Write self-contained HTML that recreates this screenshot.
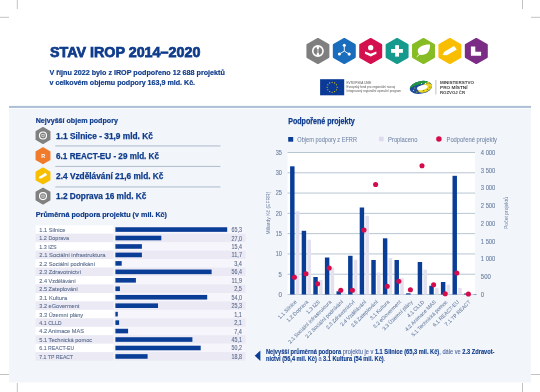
<!DOCTYPE html><html><head><meta charset="utf-8"><style>html,body{margin:0;padding:0;background:#fff;}svg{display:block;will-change:transform;}text{font-family:"Liberation Sans",sans-serif;}</style></head><body>
<svg width="540" height="392" viewBox="0 0 540 392">
<rect width="540" height="392" fill="#fff"/>
<line x1="17.3" y1="0" x2="17.3" y2="9" stroke="#b4b4b4" stroke-width="0.8"/>
<line x1="0" y1="17.3" x2="9" y2="17.3" stroke="#b4b4b4" stroke-width="0.8"/>
<line x1="522.5" y1="0" x2="522.5" y2="9" stroke="#b4b4b4" stroke-width="0.8"/>
<line x1="531" y1="17.3" x2="540" y2="17.3" stroke="#b4b4b4" stroke-width="0.8"/>
<line x1="0" y1="374.5" x2="9" y2="374.5" stroke="#b4b4b4" stroke-width="0.8"/>
<line x1="17.3" y1="383" x2="17.3" y2="392" stroke="#b4b4b4" stroke-width="0.8"/>
<line x1="531" y1="374.5" x2="540" y2="374.5" stroke="#b4b4b4" stroke-width="0.8"/>
<line x1="522.5" y1="383" x2="522.5" y2="392" stroke="#b4b4b4" stroke-width="0.8"/>
<rect x="9" y="108.6" width="522" height="273.9" fill="#f2f5fa"/>
<rect x="9" y="105.9" width="522" height="2.0" fill="#adbed4"/>
<text x="49.9" y="56.7" font-size="14.4" fill="#0f3c8c" font-weight="bold" textLength="150.5" lengthAdjust="spacingAndGlyphs" text-anchor="start"  stroke="#0f3c8c" stroke-width="0.75">STAV IROP 2014–2020</text>
<text x="49.5" y="75.2" font-size="7.4" fill="#0f3c8c" font-weight="bold" textLength="175.3" lengthAdjust="spacingAndGlyphs" text-anchor="start"  stroke="#0f3c8c" stroke-width="0.2">V říjnu 2022 bylo z IROP podpořeno 12 688 projektů</text>
<text x="49.5" y="84.9" font-size="7.4" fill="#0f3c8c" font-weight="bold" textLength="145.6" lengthAdjust="spacingAndGlyphs" text-anchor="start"  stroke="#0f3c8c" stroke-width="0.2">v celkovém objemu podpory 163,9 mld. Kč.</text>
<path d="M317.90,38.90 L328.38,44.95 L328.38,57.05 L317.90,63.10 L307.42,57.05 L307.42,44.95 Z" fill="#7f7f7f" stroke="#7f7f7f" stroke-width="2.0" stroke-linejoin="round"/>
<path d="M344.30,38.90 L354.78,44.95 L354.78,57.05 L344.30,63.10 L333.82,57.05 L333.82,44.95 Z" fill="#1a6cbd" stroke="#1a6cbd" stroke-width="2.0" stroke-linejoin="round"/>
<path d="M370.70,38.90 L381.18,44.95 L381.18,57.05 L370.70,63.10 L360.22,57.05 L360.22,44.95 Z" fill="#d5104e" stroke="#d5104e" stroke-width="2.0" stroke-linejoin="round"/>
<path d="M397.10,38.90 L407.58,44.95 L407.58,57.05 L397.10,63.10 L386.62,57.05 L386.62,44.95 Z" fill="#169a8d" stroke="#169a8d" stroke-width="2.0" stroke-linejoin="round"/>
<path d="M423.50,38.90 L433.98,44.95 L433.98,57.05 L423.50,63.10 L413.02,57.05 L413.02,44.95 Z" fill="#86bc24" stroke="#86bc24" stroke-width="2.0" stroke-linejoin="round"/>
<path d="M449.90,38.90 L460.38,44.95 L460.38,57.05 L449.90,63.10 L439.42,57.05 L439.42,44.95 Z" fill="#f9be00" stroke="#f9be00" stroke-width="2.0" stroke-linejoin="round"/>
<path d="M476.30,38.90 L486.78,44.95 L486.78,57.05 L476.30,63.10 L465.82,57.05 L465.82,44.95 Z" fill="#7b2c85" stroke="#7b2c85" stroke-width="2.0" stroke-linejoin="round"/>
<circle cx="317.9" cy="51" r="5.15" fill="none" stroke="#fff" stroke-width="1.6"/>
<polygon points="315.70,46.20 320.10,46.20 318.90,48.00 318.90,54.00 320.10,55.80 315.70,55.80 316.90,54.00 316.90,48.00" fill="#fff"/>
<rect x="316.29999999999995" y="49.4" width="3.2" height="3.2" fill="#7f7f7f"/>
<rect x="317.29999999999995" y="50.4" width="1.2" height="1.2" fill="#fff"/>
<path d="M344.3,51.1 L344.3,45.2 M344.3,51.1 L339.40000000000003,54.0 M344.3,51.1 L349.2,54.1" stroke="#fff" stroke-width="0.9"/>
<circle cx="344.3" cy="45.2" r="1.55" fill="#fff"/>
<circle cx="339.40000000000003" cy="54.0" r="1.55" fill="#fff"/>
<circle cx="349.2" cy="54.1" r="1.55" fill="#fff"/>
<circle cx="370.7" cy="47.65" r="2.65" fill="#fff"/>
<polygon points="365.10,51.40 370.70,53.70 376.30,51.40 376.50,53.70 370.70,56.60 364.90,53.70" fill="#fff"/>
<rect x="391.1" y="49" width="11.8" height="3.8" fill="#fff"/>
<rect x="395.20000000000005" y="45.2" width="3.8" height="11.4" fill="#fff"/>
<path d="M430.0,44.6 C424.5,44.2 417.7,46.8 417.7,51 C417.7,53.8 420.0,55.2 422.0,55 C428.0,54.8 430.3,50 430.0,44.6 Z" fill="#fff"/>
<path d="M420.9,53.2 L416.7,56.8" stroke="#fff" stroke-width="0.9"/>
<polygon points="442.50,54.95 444.40,51.80 454.00,45.90 456.80,49.40 446.90,55.35" fill="#fff"/>
<path d="M470.90000000000003,46.4 L475.3,46.4 L475.3,51.7 L481.1,51.7 L481.1,55.8 L470.90000000000003,55.8 Z" fill="#fff"/>
<rect x="320.1" y="79.2" width="24.1" height="16.1" fill="#0b3a96"/>
<circle cx="337.15" cy="87.25" r="0.6" fill="#f3d000"/>
<circle cx="336.48" cy="89.75" r="0.6" fill="#f3d000"/>
<circle cx="334.65" cy="91.58" r="0.6" fill="#f3d000"/>
<circle cx="332.15" cy="92.25" r="0.6" fill="#f3d000"/>
<circle cx="329.65" cy="91.58" r="0.6" fill="#f3d000"/>
<circle cx="327.82" cy="89.75" r="0.6" fill="#f3d000"/>
<circle cx="327.15" cy="87.25" r="0.6" fill="#f3d000"/>
<circle cx="327.82" cy="84.75" r="0.6" fill="#f3d000"/>
<circle cx="329.65" cy="82.92" r="0.6" fill="#f3d000"/>
<circle cx="332.15" cy="82.25" r="0.6" fill="#f3d000"/>
<circle cx="334.65" cy="82.92" r="0.6" fill="#f3d000"/>
<circle cx="336.48" cy="84.75" r="0.6" fill="#f3d000"/>
<text x="346.6" y="84.4" font-size="3.1" fill="#555" textLength="24.8" lengthAdjust="spacingAndGlyphs" text-anchor="start" >EVROPSKÁ UNIE</text>
<text x="346.6" y="88.4" font-size="3.1" fill="#555" textLength="48.5" lengthAdjust="spacingAndGlyphs" text-anchor="start" >Evropský fond pro regionální rozvoj</text>
<text x="346.6" y="92.2" font-size="3.1" fill="#555" textLength="54.5" lengthAdjust="spacingAndGlyphs" text-anchor="start" >Integrovaný regionální operační program</text>
<defs><clipPath id="mmr"><ellipse cx="420.9" cy="87.4" rx="11.3" ry="6.3" transform="rotate(-10 420.9 87.4)"/></clipPath></defs>
<g clip-path="url(#mmr)"><rect x="408" y="79" width="26" height="17" fill="#1d4c9f"/>
<ellipse cx="425.2" cy="88.0" rx="7.6" ry="3.9" transform="rotate(-25 425.2 88.0)" fill="#ecd31d"/>
<path d="M408,79 L434,79 L434,82.6 C428,83.2 423,83.6 419,84.6 C415,85.6 411,87.6 408,89.6 Z" fill="#22973f"/>
<path d="M434,79 L434,82.6 C430,82.9 427,83.2 424,83.7 C427,82.5 430,81.5 431,79 Z" fill="#ecd31d"/>
<path d="M434,82.6 C428,83.2 423,83.6 419,84.6 L420,85.6 C424,84.8 428,84.6 431.5,84.2 Z" fill="#fff" opacity="0.0"/></g>
<ellipse cx="422.3" cy="87.6" rx="5.6" ry="2.5" transform="rotate(-14 422.3 87.6)" fill="#fff"/>
<circle cx="414.8" cy="88.0" r="0.6" fill="#e8d51c"/>
<circle cx="413.6" cy="90.4" r="0.6" fill="#e8d51c"/>
<circle cx="416.8" cy="92.0" r="0.6" fill="#e8d51c"/>
<circle cx="423.6" cy="90.6" r="0.6" fill="#2a9a3f"/>
<circle cx="427.4" cy="89.4" r="0.6" fill="#2a9a3f"/>
<circle cx="429.8" cy="87.0" r="0.6" fill="#2a9a3f"/>
<circle cx="421.5" cy="83.6" r="0.6" fill="#fff"/>
<circle cx="425.5" cy="83.4" r="0.6" fill="#fff"/>
<rect x="435.5" y="79.9" width="0.8" height="14.5" fill="#b0b0b0"/>
<text x="440" y="83.6" font-size="4.1" fill="#3a3a3a" font-weight="bold" textLength="34" lengthAdjust="spacingAndGlyphs" text-anchor="start" >MINISTERSTVO</text>
<text x="440" y="88.7" font-size="4.1" fill="#3a3a3a" font-weight="bold" textLength="27.5" lengthAdjust="spacingAndGlyphs" text-anchor="start" >PRO MÍSTNÍ</text>
<text x="440" y="93.8" font-size="4.1" fill="#3a3a3a" font-weight="bold" textLength="25" lengthAdjust="spacingAndGlyphs" text-anchor="start" >ROZVOJ ČR</text>
<text x="35.7" y="123.4" font-size="7.0" fill="#0f3c8c" font-weight="bold" textLength="82.2" lengthAdjust="spacingAndGlyphs" text-anchor="start"  stroke="#0f3c8c" stroke-width="0.2">Nejvyšší objem podpory</text>
<path d="M43.00,127.75 L49.71,131.62 L49.71,139.38 L43.00,143.25 L36.29,139.38 L36.29,131.62 Z" fill="#808080" stroke="#808080" stroke-width="1.5" stroke-linejoin="round"/>
<circle cx="43.0" cy="135.5" r="3.5" fill="none" stroke="#fff" stroke-width="1.15"/>
<rect x="41.85" y="134.45" width="2.3" height="2.1" fill="none" stroke="#fff" stroke-width="0.55"/>
<text x="56.1" y="138.6" font-size="8.6" fill="#0f3c8c" font-weight="bold" textLength="96.8" lengthAdjust="spacingAndGlyphs" text-anchor="start"  stroke="#0f3c8c" stroke-width="0.25">1.1 Silnice - 31,9 mld. Kč</text>
<rect x="55.3" y="145.40" width="165.1" height="1.1" fill="#b2c0cf"/>
<path d="M43.00,147.95 L49.71,151.82 L49.71,159.57 L43.00,163.45 L36.29,159.57 L36.29,151.82 Z" fill="#ef7b2b" stroke="#ef7b2b" stroke-width="1.5" stroke-linejoin="round"/>
<text x="43.2" y="157.7" font-size="5.4" fill="#fff" font-weight="bold" text-anchor="middle">R</text>
<text x="56.1" y="158.87" font-size="8.6" fill="#0f3c8c" font-weight="bold" textLength="102.9" lengthAdjust="spacingAndGlyphs" text-anchor="start"  stroke="#0f3c8c" stroke-width="0.25">6.1 REACT-EU - 29 mld. Kč</text>
<rect x="55.3" y="165.90" width="165.1" height="1.1" fill="#b2c0cf"/>
<path d="M43.00,168.15 L49.71,172.03 L49.71,179.78 L43.00,183.65 L36.29,179.78 L36.29,172.03 Z" fill="#f8bf00" stroke="#f8bf00" stroke-width="1.5" stroke-linejoin="round"/>
<polygon points="38.56,178.27 39.70,176.38 45.46,172.84 47.14,174.94 41.20,178.51" fill="#fff"/>
<text x="56.1" y="179.14" font-size="8.6" fill="#0f3c8c" font-weight="bold" textLength="107.3" lengthAdjust="spacingAndGlyphs" text-anchor="start"  stroke="#0f3c8c" stroke-width="0.25">2.4 Vzdělávání 21,6 mld. Kč</text>
<rect x="55.3" y="186.40" width="165.1" height="1.1" fill="#b2c0cf"/>
<path d="M43.00,188.35 L49.71,192.22 L49.71,199.97 L43.00,203.85 L36.29,199.97 L36.29,192.22 Z" fill="#808080" stroke="#808080" stroke-width="1.5" stroke-linejoin="round"/>
<circle cx="43.0" cy="196.1" r="3.5" fill="none" stroke="#fff" stroke-width="1.15"/>
<rect x="41.85" y="195.04999999999998" width="2.3" height="2.1" fill="none" stroke="#fff" stroke-width="0.55"/>
<text x="56.1" y="199.41" font-size="8.6" fill="#0f3c8c" font-weight="bold" textLength="90.3" lengthAdjust="spacingAndGlyphs" text-anchor="start"  stroke="#0f3c8c" stroke-width="0.25">1.2 Doprava 16 mld. Kč</text>
<text x="35.8" y="217.0" font-size="7.0" fill="#0f3c8c" font-weight="bold" textLength="131.2" lengthAdjust="spacingAndGlyphs" text-anchor="start"  stroke="#0f3c8c" stroke-width="0.2">Průměrná podpora projektu (v mil. Kč)</text>
<rect x="35.6" y="225.30" width="77.9" height="8.46" fill="#ffffff"/>
<rect x="115.5" y="225.30" width="130.1" height="8.46" fill="#f6f5fb"/>
<rect x="115.4" y="227.25" width="111.80" height="4.6" fill="#0a3d96"/>
<text x="39.3" y="231.95" font-size="6.0" fill="#5a6c8e" textLength="26.1" lengthAdjust="spacingAndGlyphs" text-anchor="start"  stroke="#5a6c8e" stroke-width="0.1">1.1 Silnice</text>
<text x="231.6" y="232.05" font-size="6.4" fill="#5a6c8e" textLength="10.4" lengthAdjust="spacingAndGlyphs" text-anchor="start"  stroke="#5a6c8e" stroke-width="0.1">65,3</text>
<rect x="35.6" y="233.76" width="77.9" height="8.46" fill="#eae9f4"/>
<rect x="115.5" y="233.76" width="130.1" height="8.46" fill="#eae9f4"/>
<rect x="115.4" y="235.71" width="45.90" height="4.6" fill="#0a3d96"/>
<text x="39.3" y="240.41" font-size="6.0" fill="#5a6c8e" textLength="29.7" lengthAdjust="spacingAndGlyphs" text-anchor="start"  stroke="#5a6c8e" stroke-width="0.1">1.2 Doprava</text>
<text x="231.6" y="240.51" font-size="6.4" fill="#5a6c8e" textLength="10.4" lengthAdjust="spacingAndGlyphs" text-anchor="start"  stroke="#5a6c8e" stroke-width="0.1">27,0</text>
<rect x="35.6" y="242.22" width="77.9" height="8.46" fill="#ffffff"/>
<rect x="115.5" y="242.22" width="130.1" height="8.46" fill="#f6f5fb"/>
<rect x="115.4" y="244.17" width="26.50" height="4.6" fill="#0a3d96"/>
<text x="39.3" y="248.87" font-size="6.0" fill="#5a6c8e" textLength="17.3" lengthAdjust="spacingAndGlyphs" text-anchor="start"  stroke="#5a6c8e" stroke-width="0.1">1.3 IZS</text>
<text x="231.6" y="248.97" font-size="6.4" fill="#5a6c8e" textLength="10.4" lengthAdjust="spacingAndGlyphs" text-anchor="start"  stroke="#5a6c8e" stroke-width="0.1">15,4</text>
<rect x="35.6" y="250.68" width="77.9" height="8.46" fill="#eae9f4"/>
<rect x="115.5" y="250.68" width="130.1" height="8.46" fill="#eae9f4"/>
<rect x="115.4" y="252.63" width="26.50" height="4.6" fill="#0a3d96"/>
<text x="39.3" y="257.33" font-size="6.0" fill="#5a6c8e" textLength="66.1" lengthAdjust="spacingAndGlyphs" text-anchor="start"  stroke="#5a6c8e" stroke-width="0.1">2.1 Sociální infrastruktura</text>
<text x="231.6" y="257.43" font-size="6.4" fill="#5a6c8e" textLength="10.4" lengthAdjust="spacingAndGlyphs" text-anchor="start"  stroke="#5a6c8e" stroke-width="0.1">11,7</text>
<rect x="35.6" y="259.14" width="77.9" height="8.46" fill="#ffffff"/>
<rect x="115.5" y="259.14" width="130.1" height="8.46" fill="#f6f5fb"/>
<rect x="115.4" y="261.09" width="6.30" height="4.6" fill="#0a3d96"/>
<text x="39.3" y="265.79" font-size="6.0" fill="#5a6c8e" textLength="55.7" lengthAdjust="spacingAndGlyphs" text-anchor="start"  stroke="#5a6c8e" stroke-width="0.1">2.2 Sociální podnikání</text>
<text x="234.2" y="265.89" font-size="6.4" fill="#5a6c8e" textLength="7.8" lengthAdjust="spacingAndGlyphs" text-anchor="start"  stroke="#5a6c8e" stroke-width="0.1">3,4</text>
<rect x="35.6" y="267.60" width="77.9" height="8.46" fill="#eae9f4"/>
<rect x="115.5" y="267.60" width="130.1" height="8.46" fill="#eae9f4"/>
<rect x="115.4" y="269.55" width="96.20" height="4.6" fill="#0a3d96"/>
<text x="39.3" y="274.25" font-size="6.0" fill="#5a6c8e" textLength="41.7" lengthAdjust="spacingAndGlyphs" text-anchor="start"  stroke="#5a6c8e" stroke-width="0.1">2.3 Zdravotnictví</text>
<text x="231.6" y="274.35" font-size="6.4" fill="#5a6c8e" textLength="10.4" lengthAdjust="spacingAndGlyphs" text-anchor="start"  stroke="#5a6c8e" stroke-width="0.1">56,4</text>
<rect x="35.6" y="276.06" width="77.9" height="8.46" fill="#ffffff"/>
<rect x="115.5" y="276.06" width="130.1" height="8.46" fill="#f6f5fb"/>
<rect x="115.4" y="278.01" width="20.50" height="4.6" fill="#0a3d96"/>
<text x="39.3" y="282.71" font-size="6.0" fill="#5a6c8e" textLength="36.4" lengthAdjust="spacingAndGlyphs" text-anchor="start"  stroke="#5a6c8e" stroke-width="0.1">2.4 Vzdělávání</text>
<text x="231.6" y="282.81" font-size="6.4" fill="#5a6c8e" textLength="10.4" lengthAdjust="spacingAndGlyphs" text-anchor="start"  stroke="#5a6c8e" stroke-width="0.1">11,9</text>
<rect x="35.6" y="284.52" width="77.9" height="8.46" fill="#eae9f4"/>
<rect x="115.5" y="284.52" width="130.1" height="8.46" fill="#eae9f4"/>
<rect x="115.4" y="286.47" width="4.50" height="4.6" fill="#0a3d96"/>
<text x="39.3" y="291.17" font-size="6.0" fill="#5a6c8e" textLength="38.4" lengthAdjust="spacingAndGlyphs" text-anchor="start"  stroke="#5a6c8e" stroke-width="0.1">2.5 Zateplování</text>
<text x="234.2" y="291.27" font-size="6.4" fill="#5a6c8e" textLength="7.8" lengthAdjust="spacingAndGlyphs" text-anchor="start"  stroke="#5a6c8e" stroke-width="0.1">2,5</text>
<rect x="35.6" y="292.98" width="77.9" height="8.46" fill="#ffffff"/>
<rect x="115.5" y="292.98" width="130.1" height="8.46" fill="#f6f5fb"/>
<rect x="115.4" y="294.93" width="91.80" height="4.6" fill="#0a3d96"/>
<text x="39.3" y="299.63" font-size="6.0" fill="#5a6c8e" textLength="27.9" lengthAdjust="spacingAndGlyphs" text-anchor="start"  stroke="#5a6c8e" stroke-width="0.1">3.1 Kultura</text>
<text x="231.6" y="299.73" font-size="6.4" fill="#5a6c8e" textLength="10.4" lengthAdjust="spacingAndGlyphs" text-anchor="start"  stroke="#5a6c8e" stroke-width="0.1">54,0</text>
<rect x="35.6" y="301.44" width="77.9" height="8.46" fill="#eae9f4"/>
<rect x="115.5" y="301.44" width="130.1" height="8.46" fill="#eae9f4"/>
<rect x="115.4" y="303.39" width="42.60" height="4.6" fill="#0a3d96"/>
<text x="39.3" y="308.09" font-size="6.0" fill="#5a6c8e" textLength="40.1" lengthAdjust="spacingAndGlyphs" text-anchor="start"  stroke="#5a6c8e" stroke-width="0.1">3.2 eGoverment</text>
<text x="231.6" y="308.19" font-size="6.4" fill="#5a6c8e" textLength="10.4" lengthAdjust="spacingAndGlyphs" text-anchor="start"  stroke="#5a6c8e" stroke-width="0.1">25,3</text>
<rect x="35.6" y="309.90" width="77.9" height="8.46" fill="#ffffff"/>
<rect x="115.5" y="309.90" width="130.1" height="8.46" fill="#f6f5fb"/>
<rect x="115.4" y="311.85" width="2.40" height="4.6" fill="#0a3d96"/>
<text x="39.3" y="316.55" font-size="6.0" fill="#5a6c8e" textLength="43.9" lengthAdjust="spacingAndGlyphs" text-anchor="start"  stroke="#5a6c8e" stroke-width="0.1">3.3 Územní plány</text>
<text x="234.2" y="316.65" font-size="6.4" fill="#5a6c8e" textLength="7.8" lengthAdjust="spacingAndGlyphs" text-anchor="start"  stroke="#5a6c8e" stroke-width="0.1">1,1</text>
<rect x="35.6" y="318.36" width="77.9" height="8.46" fill="#eae9f4"/>
<rect x="115.5" y="318.36" width="130.1" height="8.46" fill="#eae9f4"/>
<rect x="115.4" y="320.31" width="3.70" height="4.6" fill="#0a3d96"/>
<text x="39.3" y="325.01" font-size="6.0" fill="#5a6c8e" textLength="22.4" lengthAdjust="spacingAndGlyphs" text-anchor="start"  stroke="#5a6c8e" stroke-width="0.1">4.1 CLLD</text>
<text x="234.2" y="325.11" font-size="6.4" fill="#5a6c8e" textLength="7.8" lengthAdjust="spacingAndGlyphs" text-anchor="start"  stroke="#5a6c8e" stroke-width="0.1">2,1</text>
<rect x="35.6" y="326.82" width="77.9" height="8.46" fill="#ffffff"/>
<rect x="115.5" y="326.82" width="130.1" height="8.46" fill="#f6f5fb"/>
<rect x="115.4" y="328.77" width="12.70" height="4.6" fill="#0a3d96"/>
<text x="39.3" y="333.47" font-size="6.0" fill="#5a6c8e" textLength="44.6" lengthAdjust="spacingAndGlyphs" text-anchor="start"  stroke="#5a6c8e" stroke-width="0.1">4.2 Animace MAS</text>
<text x="234.2" y="333.57" font-size="6.4" fill="#5a6c8e" textLength="7.8" lengthAdjust="spacingAndGlyphs" text-anchor="start"  stroke="#5a6c8e" stroke-width="0.1">7,4</text>
<rect x="35.6" y="335.28" width="77.9" height="8.46" fill="#eae9f4"/>
<rect x="115.5" y="335.28" width="130.1" height="8.46" fill="#eae9f4"/>
<rect x="115.4" y="337.23" width="77.00" height="4.6" fill="#0a3d96"/>
<text x="39.3" y="341.93" font-size="6.0" fill="#5a6c8e" textLength="52.8" lengthAdjust="spacingAndGlyphs" text-anchor="start"  stroke="#5a6c8e" stroke-width="0.1">5.1 Technická pomoc</text>
<text x="231.6" y="342.03" font-size="6.4" fill="#5a6c8e" textLength="10.4" lengthAdjust="spacingAndGlyphs" text-anchor="start"  stroke="#5a6c8e" stroke-width="0.1">45,1</text>
<rect x="35.6" y="343.74" width="77.9" height="8.46" fill="#ffffff"/>
<rect x="115.5" y="343.74" width="130.1" height="8.46" fill="#f6f5fb"/>
<rect x="115.4" y="345.69" width="85.30" height="4.6" fill="#0a3d96"/>
<text x="39.3" y="350.39" font-size="6.0" fill="#5a6c8e" textLength="35.0" lengthAdjust="spacingAndGlyphs" text-anchor="start"  stroke="#5a6c8e" stroke-width="0.1">6.1 REACT-EU</text>
<text x="231.6" y="350.49" font-size="6.4" fill="#5a6c8e" textLength="10.4" lengthAdjust="spacingAndGlyphs" text-anchor="start"  stroke="#5a6c8e" stroke-width="0.1">50,2</text>
<rect x="35.6" y="352.20" width="77.9" height="8.46" fill="#eae9f4"/>
<rect x="115.5" y="352.20" width="130.1" height="8.46" fill="#eae9f4"/>
<rect x="115.4" y="354.15" width="32.20" height="4.6" fill="#0a3d96"/>
<text x="39.3" y="358.85" font-size="6.0" fill="#5a6c8e" textLength="33.9" lengthAdjust="spacingAndGlyphs" text-anchor="start"  stroke="#5a6c8e" stroke-width="0.1">7.1 TP REACT</text>
<text x="231.6" y="358.95" font-size="6.4" fill="#5a6c8e" textLength="10.4" lengthAdjust="spacingAndGlyphs" text-anchor="start"  stroke="#5a6c8e" stroke-width="0.1">18,8</text>
<rect x="287.5" y="152.5" width="187.5" height="142" fill="#fff"/>
<rect x="287.5" y="152.00" width="187.5" height="1" fill="#b8c5d3"/>
<text x="275.7" y="154.8" font-size="6.3" fill="#6c80a2" textLength="6.2" lengthAdjust="spacingAndGlyphs" text-anchor="start"  stroke="#6c80a2" stroke-width="0.1">35</text>
<rect x="287.5" y="172.29" width="187.5" height="1" fill="#b8c5d3"/>
<text x="275.7" y="175.09" font-size="6.3" fill="#6c80a2" textLength="6.2" lengthAdjust="spacingAndGlyphs" text-anchor="start"  stroke="#6c80a2" stroke-width="0.1">30</text>
<rect x="287.5" y="192.57" width="187.5" height="1" fill="#b8c5d3"/>
<text x="275.7" y="195.37" font-size="6.3" fill="#6c80a2" textLength="6.2" lengthAdjust="spacingAndGlyphs" text-anchor="start"  stroke="#6c80a2" stroke-width="0.1">25</text>
<rect x="287.5" y="212.86" width="187.5" height="1" fill="#b8c5d3"/>
<text x="275.7" y="215.66" font-size="6.3" fill="#6c80a2" textLength="6.2" lengthAdjust="spacingAndGlyphs" text-anchor="start"  stroke="#6c80a2" stroke-width="0.1">20</text>
<rect x="287.5" y="233.14" width="187.5" height="1" fill="#b8c5d3"/>
<text x="275.7" y="235.94" font-size="6.3" fill="#6c80a2" textLength="6.2" lengthAdjust="spacingAndGlyphs" text-anchor="start"  stroke="#6c80a2" stroke-width="0.1">15</text>
<rect x="287.5" y="253.43" width="187.5" height="1" fill="#b8c5d3"/>
<text x="275.7" y="256.23" font-size="6.3" fill="#6c80a2" textLength="6.2" lengthAdjust="spacingAndGlyphs" text-anchor="start"  stroke="#6c80a2" stroke-width="0.1">10</text>
<rect x="287.5" y="273.72" width="187.5" height="1" fill="#b8c5d3"/>
<text x="278.6" y="276.52" font-size="6.3" fill="#6c80a2" textLength="3.3" lengthAdjust="spacingAndGlyphs" text-anchor="start"  stroke="#6c80a2" stroke-width="0.1">5</text>
<rect x="287.5" y="294.00" width="187.5" height="1" fill="#b8c5d3"/>
<text x="281.9" y="296.8" font-size="6.3" fill="#6c80a2" text-anchor="end"  stroke="#6c80a2" stroke-width="0.1">0</text>
<text x="480.8" y="154.8" font-size="6.3" fill="#6c80a2" textLength="14.5" lengthAdjust="spacingAndGlyphs" text-anchor="start"  stroke="#6c80a2" stroke-width="0.1">4 000</text>
<text x="480.8" y="172.55" font-size="6.3" fill="#6c80a2" textLength="14.5" lengthAdjust="spacingAndGlyphs" text-anchor="start"  stroke="#6c80a2" stroke-width="0.1">3 500</text>
<text x="480.8" y="190.3" font-size="6.3" fill="#6c80a2" textLength="14.5" lengthAdjust="spacingAndGlyphs" text-anchor="start"  stroke="#6c80a2" stroke-width="0.1">3 000</text>
<text x="480.8" y="208.05" font-size="6.3" fill="#6c80a2" textLength="14.5" lengthAdjust="spacingAndGlyphs" text-anchor="start"  stroke="#6c80a2" stroke-width="0.1">2 500</text>
<text x="480.8" y="225.8" font-size="6.3" fill="#6c80a2" textLength="14.5" lengthAdjust="spacingAndGlyphs" text-anchor="start"  stroke="#6c80a2" stroke-width="0.1">2 000</text>
<text x="480.8" y="243.55" font-size="6.3" fill="#6c80a2" textLength="14.5" lengthAdjust="spacingAndGlyphs" text-anchor="start"  stroke="#6c80a2" stroke-width="0.1">1 500</text>
<text x="480.8" y="261.3" font-size="6.3" fill="#6c80a2" textLength="14.5" lengthAdjust="spacingAndGlyphs" text-anchor="start"  stroke="#6c80a2" stroke-width="0.1">1 000</text>
<text x="480.8" y="279.05" font-size="6.3" fill="#6c80a2" textLength="10.0" lengthAdjust="spacingAndGlyphs" text-anchor="start"  stroke="#6c80a2" stroke-width="0.1">500</text>
<text x="480.8" y="296.8" font-size="6.3" fill="#6c80a2" textLength="3.4" lengthAdjust="spacingAndGlyphs" text-anchor="start"  stroke="#6c80a2" stroke-width="0.1">0</text>
<rect x="474.5" y="294" width="2" height="0.8" fill="#6c80a2"/>
<text x="0" y="0" font-size="5" fill="#6c80a2" text-anchor="middle" transform="translate(270.3,213) rotate(-90)">Miliardy Kč (EFRR)</text>
<text x="0" y="0" font-size="5" fill="#6c80a2" text-anchor="middle" transform="translate(507.6,213) rotate(-90)">Počet projektů</text>
<rect x="295.80" y="211.3" width="3.6" height="83.20" fill="#e3e1f0"/>
<rect x="290.10" y="166.3" width="4.45" height="128.20" fill="#0a3d96"/>
<rect x="307.40" y="239.7" width="3.6" height="54.80" fill="#e3e1f0"/>
<rect x="301.70" y="230.8" width="4.45" height="63.70" fill="#0a3d96"/>
<rect x="319.00" y="280" width="3.6" height="14.50" fill="#e3e1f0"/>
<rect x="313.30" y="277" width="4.45" height="17.50" fill="#0a3d96"/>
<rect x="330.60" y="267.5" width="3.6" height="27.00" fill="#e3e1f0"/>
<rect x="324.90" y="257.5" width="4.45" height="37.00" fill="#0a3d96"/>
<rect x="342.20" y="292.5" width="3.6" height="2.00" fill="#e3e1f0"/>
<rect x="336.50" y="291.3" width="4.45" height="3.20" fill="#0a3d96"/>
<rect x="353.80" y="259.7" width="3.6" height="34.80" fill="#e3e1f0"/>
<rect x="348.10" y="255.8" width="4.45" height="38.70" fill="#0a3d96"/>
<rect x="365.40" y="215.8" width="3.6" height="78.70" fill="#e3e1f0"/>
<rect x="359.70" y="207.5" width="4.45" height="87.00" fill="#0a3d96"/>
<rect x="377.00" y="272.5" width="3.6" height="22.00" fill="#e3e1f0"/>
<rect x="371.30" y="260" width="4.45" height="34.50" fill="#0a3d96"/>
<rect x="388.60" y="258" width="3.6" height="36.50" fill="#e3e1f0"/>
<rect x="382.90" y="238.3" width="4.45" height="56.20" fill="#0a3d96"/>
<rect x="400.20" y="278.3" width="3.6" height="16.20" fill="#e3e1f0"/>
<rect x="394.50" y="260" width="4.45" height="34.50" fill="#0a3d96"/>
<rect x="411.80" y="294" width="3.6" height="0.50" fill="#e3e1f0"/>
<rect x="406.10" y="293.3" width="4.45" height="1.20" fill="#0a3d96"/>
<rect x="423.40" y="269.7" width="3.6" height="24.80" fill="#e3e1f0"/>
<rect x="417.70" y="262" width="4.45" height="32.50" fill="#0a3d96"/>
<rect x="435.00" y="288" width="3.6" height="6.50" fill="#e3e1f0"/>
<rect x="429.30" y="285.8" width="4.45" height="8.70" fill="#0a3d96"/>
<rect x="446.60" y="284.7" width="3.6" height="9.80" fill="#e3e1f0"/>
<rect x="440.90" y="282" width="4.45" height="12.50" fill="#0a3d96"/>
<rect x="458.20" y="288" width="3.6" height="6.50" fill="#e3e1f0"/>
<rect x="452.50" y="175.8" width="4.45" height="118.70" fill="#0a3d96"/>
<rect x="469.80" y="294" width="3.6" height="0.50" fill="#e3e1f0"/>
<rect x="464.10" y="293.5" width="4.45" height="1.00" fill="#0a3d96"/>
<circle cx="294.40" cy="277.2" r="2.55" fill="#d50c4c"/>
<text x="0" y="0" font-size="5.2" fill="#6c80a2" stroke="#6c80a2" stroke-width="0.07" text-anchor="end" transform="translate(297.00,302.3) rotate(-45)">1.1 Silnice</text>
<circle cx="306.00" cy="273.7" r="2.55" fill="#d50c4c"/>
<text x="0" y="0" font-size="5.2" fill="#6c80a2" stroke="#6c80a2" stroke-width="0.07" text-anchor="end" transform="translate(308.60,302.3) rotate(-45)">1.2 Doprava</text>
<circle cx="317.60" cy="283.7" r="2.55" fill="#d50c4c"/>
<text x="0" y="0" font-size="5.2" fill="#6c80a2" stroke="#6c80a2" stroke-width="0.07" text-anchor="end" transform="translate(320.20,302.3) rotate(-45)">1.3 IZS</text>
<circle cx="329.20" cy="268" r="2.55" fill="#d50c4c"/>
<text x="0" y="0" font-size="5.2" fill="#6c80a2" stroke="#6c80a2" stroke-width="0.07" text-anchor="end" transform="translate(331.80,302.3) rotate(-45)">2.1 Sociální infrastruktura</text>
<circle cx="340.80" cy="290.3" r="2.55" fill="#d50c4c"/>
<text x="0" y="0" font-size="5.2" fill="#6c80a2" stroke="#6c80a2" stroke-width="0.07" text-anchor="end" transform="translate(343.40,302.3) rotate(-45)">2.2 Sociální podnikání</text>
<circle cx="352.40" cy="290.3" r="2.55" fill="#d50c4c"/>
<text x="0" y="0" font-size="5.2" fill="#6c80a2" stroke="#6c80a2" stroke-width="0.07" text-anchor="end" transform="translate(355.00,302.3) rotate(-45)">2.3 Zdravotnictví</text>
<circle cx="364.00" cy="230" r="2.55" fill="#d50c4c"/>
<text x="0" y="0" font-size="5.2" fill="#6c80a2" stroke="#6c80a2" stroke-width="0.07" text-anchor="end" transform="translate(366.60,302.3) rotate(-45)">2.4 Vzdělávání</text>
<circle cx="375.60" cy="184.5" r="2.55" fill="#d50c4c"/>
<text x="0" y="0" font-size="5.2" fill="#6c80a2" stroke="#6c80a2" stroke-width="0.07" text-anchor="end" transform="translate(378.20,302.3) rotate(-45)">2.5 Zateplování</text>
<circle cx="387.20" cy="286.3" r="2.55" fill="#d50c4c"/>
<text x="0" y="0" font-size="5.2" fill="#6c80a2" stroke="#6c80a2" stroke-width="0.07" text-anchor="end" transform="translate(389.80,302.3) rotate(-45)">3.1 Kultura</text>
<circle cx="398.80" cy="281.3" r="2.55" fill="#d50c4c"/>
<text x="0" y="0" font-size="5.2" fill="#6c80a2" stroke="#6c80a2" stroke-width="0.07" text-anchor="end" transform="translate(401.40,302.3) rotate(-45)">3.2 eGoverment</text>
<circle cx="410.40" cy="289.7" r="2.55" fill="#d50c4c"/>
<text x="0" y="0" font-size="5.2" fill="#6c80a2" stroke="#6c80a2" stroke-width="0.07" text-anchor="end" transform="translate(413.00,302.3) rotate(-45)">3.3 Územní plány</text>
<circle cx="422.00" cy="165.8" r="2.55" fill="#d50c4c"/>
<text x="0" y="0" font-size="5.2" fill="#6c80a2" stroke="#6c80a2" stroke-width="0.07" text-anchor="end" transform="translate(424.60,302.3) rotate(-45)">4.1 CLLD</text>
<circle cx="433.60" cy="284.7" r="2.55" fill="#d50c4c"/>
<text x="0" y="0" font-size="5.2" fill="#6c80a2" stroke="#6c80a2" stroke-width="0.07" text-anchor="end" transform="translate(436.20,302.3) rotate(-45)">4.2 Animace MAS</text>
<circle cx="445.20" cy="293.7" r="2.55" fill="#d50c4c"/>
<text x="0" y="0" font-size="5.2" fill="#6c80a2" stroke="#6c80a2" stroke-width="0.07" text-anchor="end" transform="translate(447.80,302.3) rotate(-45)">5.1 Technická pomoc</text>
<circle cx="456.80" cy="273" r="2.55" fill="#d50c4c"/>
<text x="0" y="0" font-size="5.2" fill="#6c80a2" stroke="#6c80a2" stroke-width="0.07" text-anchor="end" transform="translate(459.40,302.3) rotate(-45)">6.1 REACT-EU</text>
<circle cx="468.40" cy="294" r="2.55" fill="#d50c4c"/>
<text x="0" y="0" font-size="5.2" fill="#6c80a2" stroke="#6c80a2" stroke-width="0.07" text-anchor="end" transform="translate(471.00,302.3) rotate(-45)">7.1 TP REACT</text>
<text x="288.2" y="123.7" font-size="8.4" fill="#0f3c8c" font-weight="bold" textLength="66.6" lengthAdjust="spacingAndGlyphs" text-anchor="start"  stroke="#0f3c8c" stroke-width="0.25">Podpořené projekty</text>
<rect x="288.2" y="137" width="5" height="4.7" fill="#0a3d96"/>
<text x="297.3" y="141.8" font-size="6.3" fill="#6c80a2" textLength="59.7" lengthAdjust="spacingAndGlyphs" text-anchor="start"  stroke="#6c80a2" stroke-width="0.03">Objem podpory z EFRR</text>
<rect x="379" y="136.7" width="4.6" height="4.6" fill="#dedbef"/>
<text x="388.1" y="141.8" font-size="6.3" fill="#6c80a2" textLength="29.3" lengthAdjust="spacingAndGlyphs" text-anchor="start"  stroke="#6c80a2" stroke-width="0.03">Proplaceno</text>
<circle cx="438.9" cy="139" r="2.75" fill="#d50c4c"/>
<text x="446.5" y="141.8" font-size="6.3" fill="#6c80a2" textLength="50.5" lengthAdjust="spacingAndGlyphs" text-anchor="start"  stroke="#6c80a2" stroke-width="0.03">Podpořené projekty</text>
<path d="M254.7,355.8 L260.4,350.6 L260.4,361 Z" fill="#0a3d96"/>
<text x="266" y="353.9" font-size="6.3" fill="#4f67a0" stroke="#4f67a0" stroke-width="0.1" textLength="228.5" lengthAdjust="spacingAndGlyphs"><tspan font-weight="bold" fill="#0f3c8c" stroke="#0f3c8c" stroke-width="0.12">Nejvyšší průměrná podpora</tspan> projektu je v <tspan font-weight="bold" fill="#0f3c8c" stroke="#0f3c8c" stroke-width="0.12">1.1 Silnice (65,3 mil. Kč)</tspan>, dále ve <tspan font-weight="bold" fill="#0f3c8c" stroke="#0f3c8c" stroke-width="0.12">2.3 Zdravot-</tspan></text>
<text x="266" y="360.6" font-size="6.3" fill="#4f67a0" stroke="#4f67a0" stroke-width="0.1" textLength="119.2" lengthAdjust="spacingAndGlyphs"><tspan font-weight="bold" fill="#0f3c8c" stroke="#0f3c8c" stroke-width="0.12">nictví (56,4 mil. Kč)</tspan> a <tspan font-weight="bold" fill="#0f3c8c" stroke="#0f3c8c" stroke-width="0.12">3.1 Kultura (54 mil. Kč)</tspan>.</text>
</svg></body></html>
